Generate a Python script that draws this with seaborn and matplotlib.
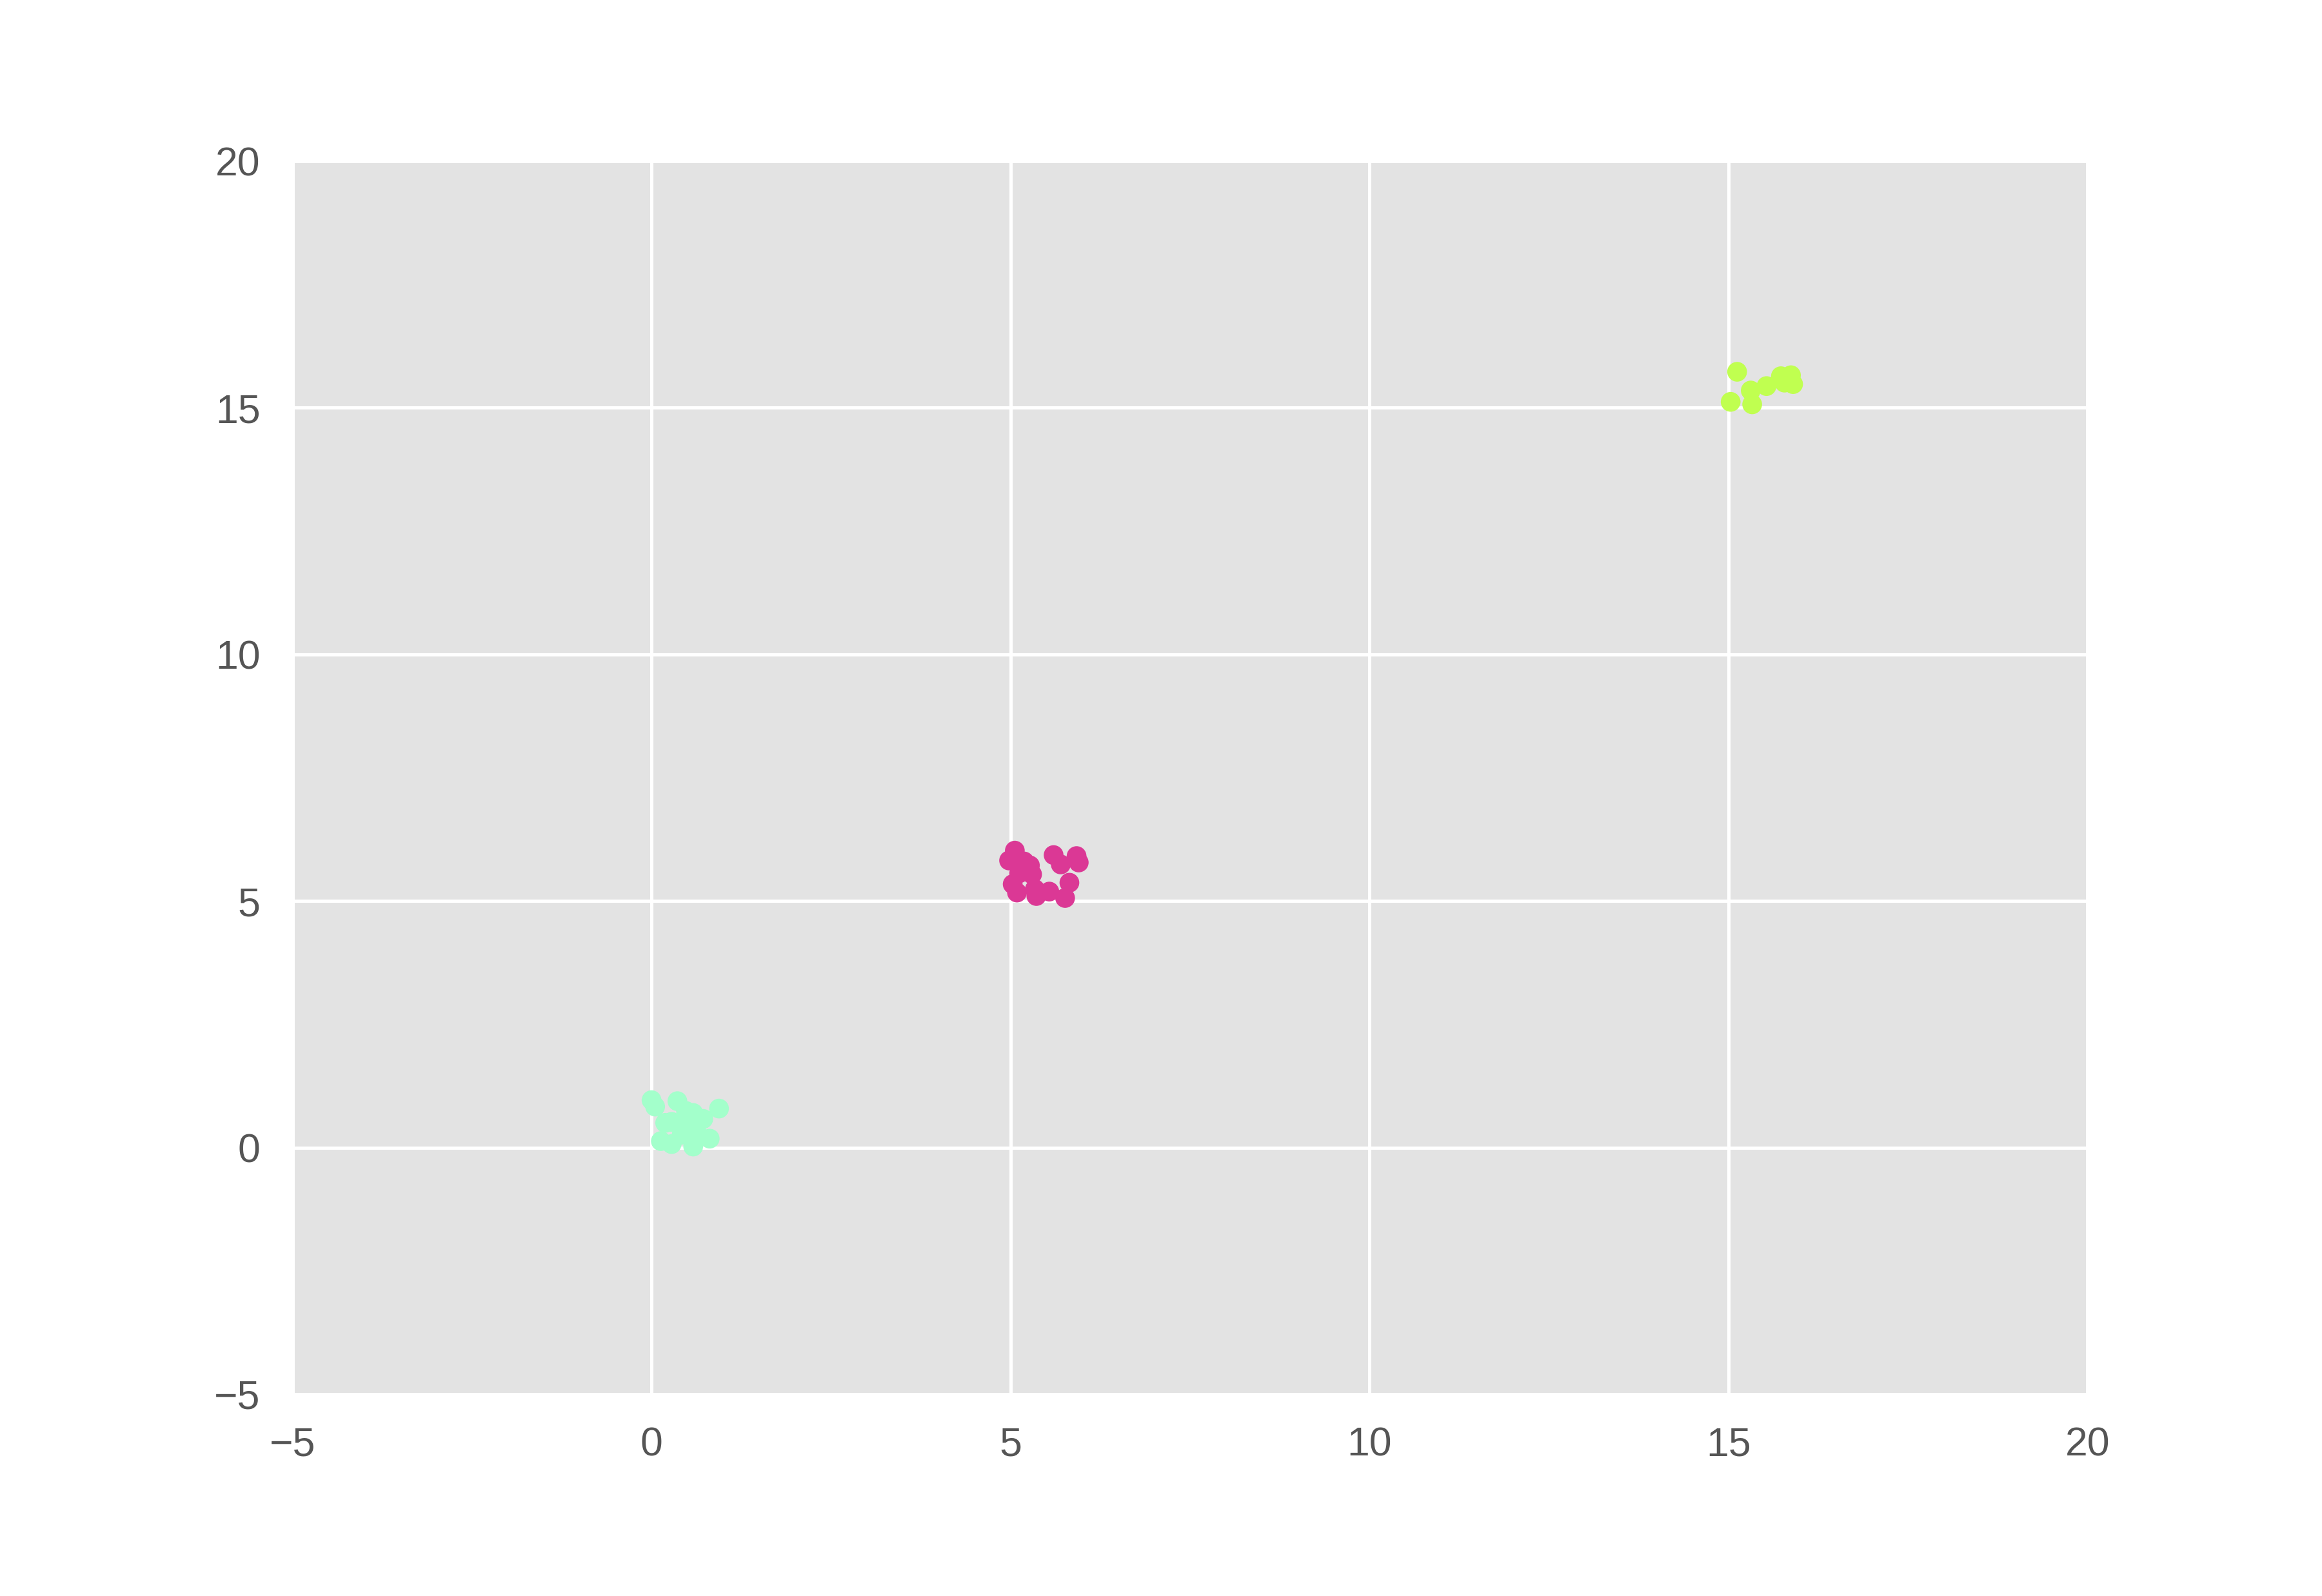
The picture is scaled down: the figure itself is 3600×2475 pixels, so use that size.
import matplotlib
matplotlib.use("Agg")
import matplotlib.pyplot as plt
import pandas as pd
import seaborn as sns

# cluster values
cyan_x = [0.00, 0.05, 0.36, 0.94, 0.58, 0.72, 0.19, 0.28, 0.54, 0.81, 0.13, 0.28, 0.58, 0.42, 0.63, 0.48]
cyan_y = [0.96, 0.83, 0.94, 0.79, 0.70, 0.58, 0.50, 0.52, 0.50, 0.18, 0.13, 0.07, 0.02, 0.26, 0.30, 0.74]

magenta_x = [5.06, 4.98, 5.27, 5.30, 5.12, 5.03, 5.09, 5.36, 5.54, 5.76, 5.82, 5.60, 5.70, 5.92, 5.95, 5.19, 5.34]
magenta_y = [6.02, 5.82, 5.72, 5.54, 5.56, 5.34, 5.17, 5.10, 5.19, 5.06, 5.37, 5.93, 5.74, 5.91, 5.78, 5.80, 5.24]

green_x = [15.12, 15.03, 15.31, 15.33, 15.53, 15.73, 15.87, 15.90, 15.78]
green_y = [15.73, 15.12, 15.35, 15.07, 15.44, 15.64, 15.66, 15.48, 15.51]

cluster_colors = {"a": "#A3FFCB", "b": "#DB3895", "c": "#C0FF50"}

df = pd.concat([
    pd.DataFrame({"x": cyan_x, "y": cyan_y, "cluster": "a"}),
    pd.DataFrame({"x": magenta_x, "y": magenta_y, "cluster": "b"}),
    pd.DataFrame({"x": green_x, "y": green_y, "cluster": "c"}),
], ignore_index=True)

sns.set_style("darkgrid", {
    "axes.facecolor": "#E3E3E3",
    "grid.color": "white",
    "grid.linewidth": 1.0,
    "xtick.color": "#555555",
    "ytick.color": "#555555",
    "axes.edgecolor": "#E3E3E3",
})
plt.rcParams["font.family"] = ["Liberation Sans", "DejaVu Sans"]

fig, ax = plt.subplots(figsize=(8, 5.5), dpi=450)
fig.subplots_adjust(left=0.126, right=0.899, bottom=0.1265, top=0.899)

sns.scatterplot(
    data=df, x="x", y="y", hue="cluster", palette=cluster_colors,
    s=24, linewidth=0, legend=False, ax=ax, zorder=3,
)
ax.set_xlim(-5, 20)
ax.set_ylim(-5, 20)
ax.set_xticks([-5, 0, 5, 10, 15, 20])
ax.set_yticks([-5, 0, 5, 10, 15, 20])
ax.set_xlabel("")
ax.set_ylabel("")
ax.tick_params(axis="both", length=0, labelsize=10, pad=8)
for sp in ax.spines.values():
    sp.set_visible(False)

fig.savefig("out.png", dpi=450)
